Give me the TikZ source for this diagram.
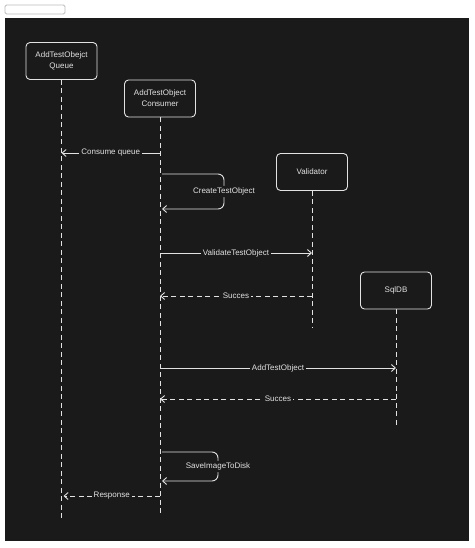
\documentclass[tikz,border=0pt]{standalone}
\usepackage{fontspec}
\setmainfont{Liberation Sans}
\usetikzlibrary{arrows.meta}
\definecolor{bg}{HTML}{1A1A1A}
\definecolor{fg}{HTML}{E2E2E2}
\definecolor{topgray}{HTML}{BBBBBB}
\begin{document}
\begin{tikzpicture}[x=1pt,y=-1pt,
  actor/.style={draw=fg, line width=0.9pt, rounded corners=4pt, minimum width=71pt, minimum height=37pt, text=fg, font=\fontsize{8}{11}\selectfont, align=center, fill=bg},
  life/.style={draw=fg, line width=0.9pt, dash pattern=on 5pt off 3.5pt},
  msg/.style={draw=fg, line width=0.9pt, -{Straight Barb[length=4pt,width=7pt]}},
  reply/.style={msg, dash pattern=on 5pt off 3.5pt},
  lbl/.style={fill=bg, text=fg, font=\fontsize{8}{10}\selectfont, inner sep=2pt}]
\useasboundingbox (0,0) rectangle (474,548);
\fill[white] (0,0) rectangle (474,548);
\node[draw=topgray, fill=white, rounded corners=1.5pt, minimum width=60pt, minimum height=9pt, inner sep=0pt, line width=0.8pt] (topbox) at (35,9.5) {};
\fill[bg] (5,18) rectangle (469,541);
% actors
\node[actor] (queue) at (61.5,61) {AddTestObejct\\Queue};
\node[actor] (cons) at (160,98.5) {AddTestObject\\Consumer};
\node[actor] (val) at (312,172) {Validator};
\node[actor] (sql) at (396,290.5) {SqlDB};
% lifeline ends
\coordinate (queueEnd) at (61.5,520);
\coordinate (consEnd) at (160,514);
\coordinate (valEnd) at (312,327);
\coordinate (sqlEnd) at (396,428);
\draw[life] (queue.south) -- (queueEnd);
\draw[life] (cons.south) -- (consEnd);
\draw[life] (val.south) -- (valEnd);
\draw[life] (sql.south) -- (sqlEnd);
% message points
\coordinate (c1) at (160,153);
\coordinate (q1) at (61.5,153);
\coordinate (s1a) at (162,174);
\coordinate (s1b) at (162,209);
\coordinate (c2) at (160,253);
\coordinate (v2) at (312,253);
\coordinate (v3) at (312,296);
\coordinate (c3) at (160,296);
\coordinate (c4) at (160,368);
\coordinate (d4) at (396,368);
\coordinate (d5) at (396,399);
\coordinate (c5) at (160,399);
\coordinate (s2a) at (162,452);
\coordinate (s2b) at (162,481);
\coordinate (c6) at (160,496);
\coordinate (q6) at (63.5,496);
% messages
\draw[msg] (c1) -- node[lbl]{Consume queue} (q1);
\draw[msg, rounded corners=6pt] (s1a) -- (224,174) -- node[lbl]{CreateTestObject} (224,209) -- (s1b);
\draw[msg] (c2) -- node[lbl]{ValidateTestObject} (v2);
\draw[reply] (v3) -- node[lbl]{Succes} (c3);
\draw[msg] (c4) -- node[lbl]{AddTestObject} (d4);
\draw[reply] (d5) -- node[lbl]{Succes} (c5);
\draw[msg, rounded corners=6pt] (s2a) -- (218,452) -- node[lbl]{SaveImageToDisk} (218,481) -- (s2b);
\draw[reply] (c6) -- node[lbl]{Response} (q6);
\end{tikzpicture}
\end{document}
